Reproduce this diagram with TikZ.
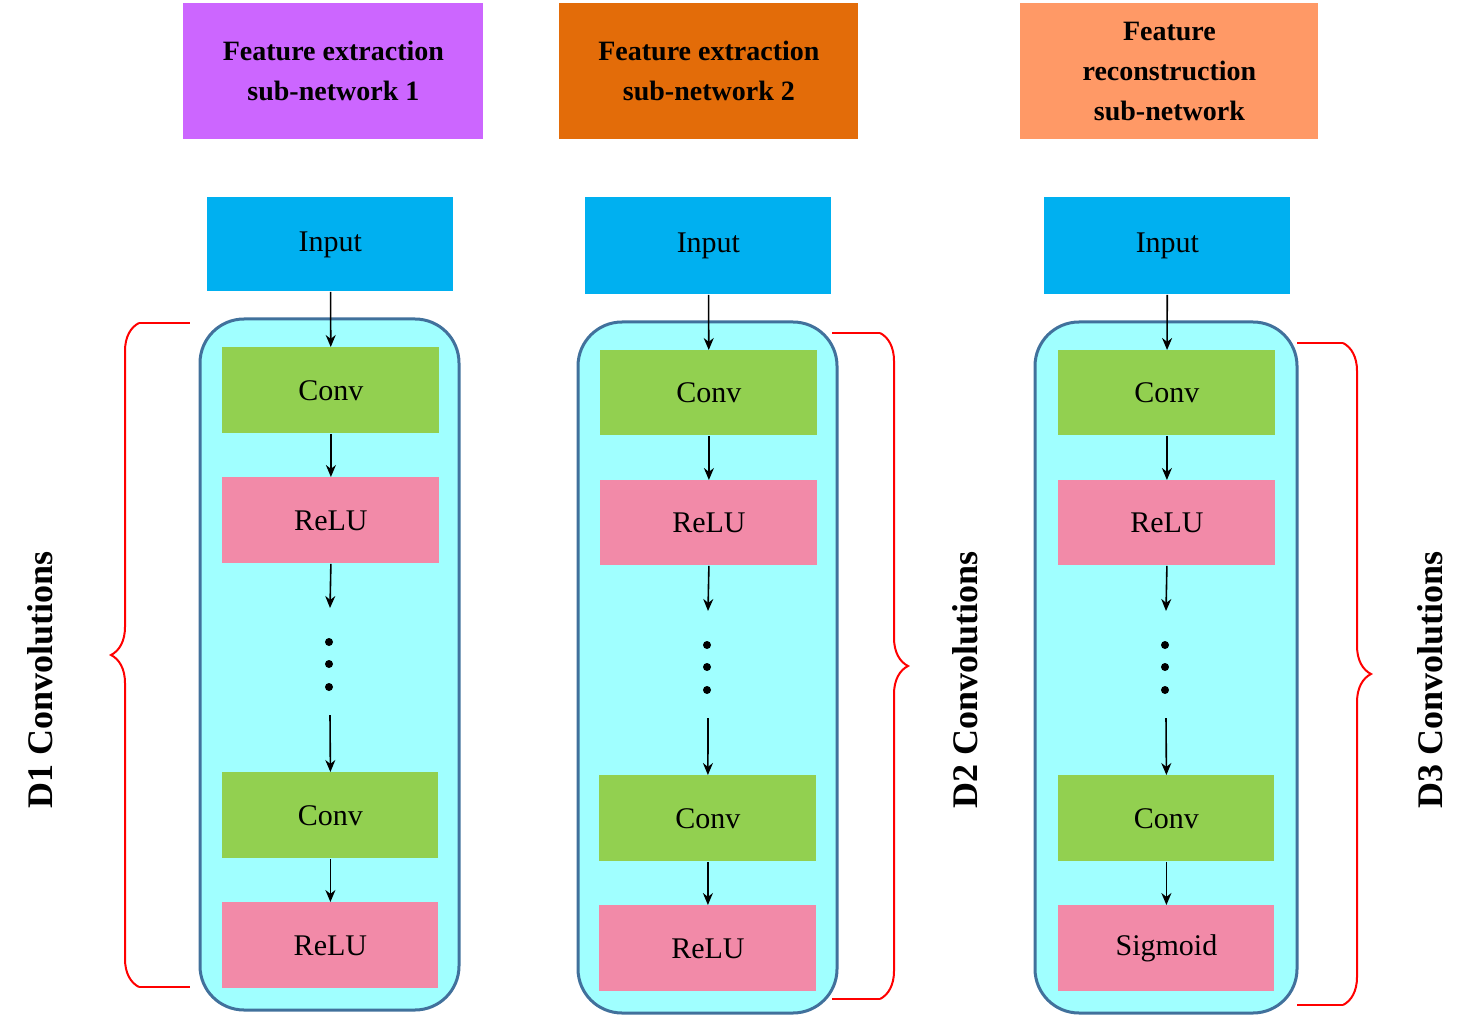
\documentclass[tikz,border=0pt]{standalone}
\usepackage{fontspec}
\setmainfont{Liberation Serif}
\usetikzlibrary{decorations.pathreplacing,arrows.meta}
\definecolor{cpurple}{HTML}{CC66FF}
\definecolor{corange}{HTML}{E36C09}
\definecolor{clight}{HTML}{FF9966}
\definecolor{cblue}{HTML}{00B0F0}
\definecolor{cgreen}{HTML}{92D050}
\definecolor{cpink}{HTML}{F28AA8}
\definecolor{ccyan}{HTML}{A0FFFF}
\definecolor{cedge}{HTML}{41719C}
\begin{document}
\begin{tikzpicture}[x=0.5pt,y=-0.5pt,
  box/.style={draw=none,anchor=north west,inner sep=0,align=center,font=\fontsize{15}{18}\selectfont},
  title/.style={box,font=\fontsize{14}{20}\selectfont\bfseries},
  cont/.style={draw=cedge,line width=1.5pt,fill=ccyan,rounded corners=22pt},
  arr/.style={-{Stealth[length=6pt,width=5pt]},line width=0.8pt},
  br/.style={red,line width=1pt,decorate,decoration={brace,amplitude=14pt,aspect=#1}},
  dl/.style={rotate=90,font=\fontsize{18}{20}\selectfont\bfseries}]
\useasboundingbox (0,0) rectangle (1475,1015);
% titles
\node[title,fill=cpurple,minimum width=150pt,minimum height=68pt] (t1) at (183,3) {Feature extraction\\sub-network 1};
\node[title,fill=corange,minimum width=149.5pt,minimum height=68pt] (t2) at (559,3) {Feature extraction\\sub-network 2};
\node[title,fill=clight,minimum width=149pt,minimum height=68pt] (t3) at (1020,3) {Feature\\reconstruction\\sub-network};
% containers
\draw[cont] (200,319) rectangle (459,1010);
\draw[cont] (578,322) rectangle (837,1013);
\draw[cont] (1035,322) rectangle (1297,1013);
% column 1
\node[box,fill=cblue,minimum width=123pt,minimum height=47pt] (i1) at (207,197) {Input};
\node[box,fill=cgreen,minimum width=108.5pt,minimum height=43pt] (c1a) at (222,347) {Conv};
\node[box,fill=cpink,minimum width=108.5pt,minimum height=43pt] (r1a) at (222,477) {ReLU};
\node[box,fill=cgreen,minimum width=108pt,minimum height=43pt] (c1b) at (222,772) {Conv};
\node[box,fill=cpink,minimum width=108pt,minimum height=43pt] (r1b) at (222,902) {ReLU};
\coordinate (e1) at (330,608); \coordinate (s1) at (330,715);
\foreach \y in {642,664,687} \fill (329,\y) circle (2pt);
\draw[arr] (i1) -- (c1a); \draw[arr] (c1a) -- (r1a); \draw[arr] (r1a.south) -- (e1);
\draw[arr] (s1) -- (c1b.north); \draw[arr] (c1b) -- (r1b);
% column 2
\node[box,fill=cblue,minimum width=123pt,minimum height=48.5pt] (i2) at (585,197) {Input};
\node[box,fill=cgreen,minimum width=108.5pt,minimum height=42.5pt] (c2a) at (600,350) {Conv};
\node[box,fill=cpink,minimum width=108.5pt,minimum height=42.5pt] (r2a) at (600,480) {ReLU};
\node[box,fill=cgreen,minimum width=108.5pt,minimum height=43pt] (c2b) at (599,775) {Conv};
\node[box,fill=cpink,minimum width=108.5pt,minimum height=43pt] (r2b) at (599,905) {ReLU};
\coordinate (e2) at (708,611); \coordinate (s2) at (708,718);
\foreach \y in {645,667,690} \fill (707,\y) circle (2pt);
\draw[arr] (i2) -- (c2a); \draw[arr] (c2a) -- (r2a); \draw[arr] (r2a.south) -- (e2);
\draw[arr] (s2) -- (c2b.north); \draw[arr] (c2b) -- (r2b);
% column 3
\node[box,fill=cblue,minimum width=123pt,minimum height=48.5pt] (i3) at (1044,197) {Input};
\node[box,fill=cgreen,minimum width=108.5pt,minimum height=42.5pt] (c3a) at (1058,350) {Conv};
\node[box,fill=cpink,minimum width=108.5pt,minimum height=42.5pt] (r3a) at (1058,480) {ReLU};
\node[box,fill=cgreen,minimum width=108pt,minimum height=43pt] (c3b) at (1058,775) {Conv};
\node[box,fill=cpink,minimum width=108pt,minimum height=43pt] (r3b) at (1058,905) {Sigmoid};
\coordinate (e3) at (1166,611); \coordinate (s3) at (1166,718);
\foreach \y in {645,667,690} \fill (1165,\y) circle (2pt);
\draw[arr] (i3) -- (c3a); \draw[arr] (c3a) -- (r3a); \draw[arr] (r3a.south) -- (e3);
\draw[arr] (s3) -- (c3b.north); \draw[arr] (c3b) -- (r3b);
% braces
\coordinate (b1a) at (139,987); \coordinate (b1b) at (139,323);
\draw[br=0.5] (b1a) -- (b1b);
\draw[red,line width=1pt] (139,323) -- (190,323) (139,987) -- (190,987);
\coordinate (b2a) at (880,333); \coordinate (b2b) at (880,999);
\draw[br=0.5] (b2a) -- (b2b);
\draw[red,line width=1pt] (832,333) -- (880,333) (832,999) -- (880,999);
\coordinate (b3a) at (1343,343); \coordinate (b3b) at (1343,1005);
\draw[br=0.5] (b3a) -- (b3b);
\draw[red,line width=1pt] (1297,343) -- (1343,343) (1297,1005) -- (1343,1005);
% labels
\node[dl] (d1) at (40,680) {D1 Convolutions};
\node[dl] (d2) at (965,680) {D2 Convolutions};
\node[dl] (d3) at (1430,680) {D3 Convolutions};
\end{tikzpicture}
\end{document}
